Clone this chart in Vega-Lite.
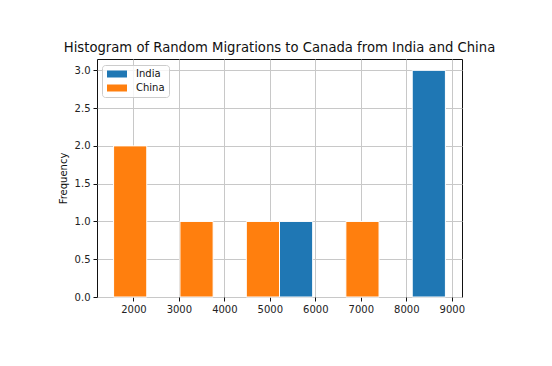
{
  "$schema": "https://vega.github.io/schema/vega-lite/v6.json",
  "autosize": {"type": "none"},
  "padding": {"left": 97, "top": 59, "right": 90, "bottom": 69},
  "width": 365,
  "height": 238,
  "background": "white",
  "title": {
    "text": "Histogram of Random Migrations to Canada from India and China",
    "font": "DejaVu Sans",
    "fontSize": 13.2,
    "fontWeight": "normal",
    "color": "#111",
    "anchor": "middle",
    "offset": 4
  },
  "data": {
    "values": [
      {"bin_start": 1565, "bin_end": 2294.5, "country": "China", "count": 2},
      {"bin_start": 3024, "bin_end": 3753.5, "country": "China", "count": 1},
      {"bin_start": 4483, "bin_end": 5212.5, "country": "China", "count": 1},
      {"bin_start": 5212.5, "bin_end": 5942, "country": "India", "count": 1},
      {"bin_start": 6671.5, "bin_end": 7401, "country": "China", "count": 1},
      {"bin_start": 8130.5, "bin_end": 8860, "country": "India", "count": 3}
    ]
  },
  "mark": {"type": "bar", "stroke": "white", "strokeWidth": 1},
  "encoding": {
    "x": {
      "field": "bin_start",
      "type": "quantitative",
      "scale": {"domain": [1200.25, 9224.75], "nice": false, "zero": false},
      "axis": {
        "title": null,
        "values": [2000, 3000, 4000, 5000, 6000, 7000, 8000, 9000],
        "format": "d"
      }
    },
    "x2": {"field": "bin_end"},
    "y": {
      "field": "count",
      "type": "quantitative",
      "scale": {"domain": [0, 3.15], "nice": false, "padding": 0},
      "axis": {
        "title": "Frequency",
        "values": [0, 0.5, 1, 1.5, 2, 2.5, 3],
        "format": ".1f",
        "titlePadding": 6
      }
    },
    "y2": {"datum": 0},
    "color": {
      "field": "country",
      "type": "nominal",
      "scale": {"domain": ["India", "China"], "range": ["#1f77b4", "#ff7f0e"]},
      "legend": {
        "title": null,
        "orient": "none",
        "legendX": 5,
        "legendY": 6,
        "fillColor": "rgba(255,255,255,0.8)",
        "strokeColor": "#cccccc",
        "cornerRadius": 3,
        "padding": 4,
        "symbolType": "M-2,-0.7H2V0.7H-2Z",
        "symbolSize": 100,
        "symbolOffset": 6,
        "symbolStrokeWidth": 0,
        "symbolOpacity": 1,
        "labelFont": "DejaVu Sans",
        "labelFontSize": 10,
        "labelColor": "#111",
        "labelOffset": 14,
        "rowPadding": 4
      }
    }
  },
  "config": {
    "view": {"stroke": "#111", "strokeWidth": 1},
    "axis": {
      "domain": false,
      "grid": true,
      "gridColor": "#c8c8c8",
      "gridWidth": 1,
      "tickColor": "#111",
      "tickSize": 4,
      "labelFont": "DejaVu Sans",
      "labelFontSize": 10,
      "labelColor": "#222",
      "labelPadding": 3,
      "titleFont": "DejaVu Sans",
      "titleFontSize": 10,
      "titleFontWeight": "normal",
      "titleColor": "#111"
    }
  }
}
